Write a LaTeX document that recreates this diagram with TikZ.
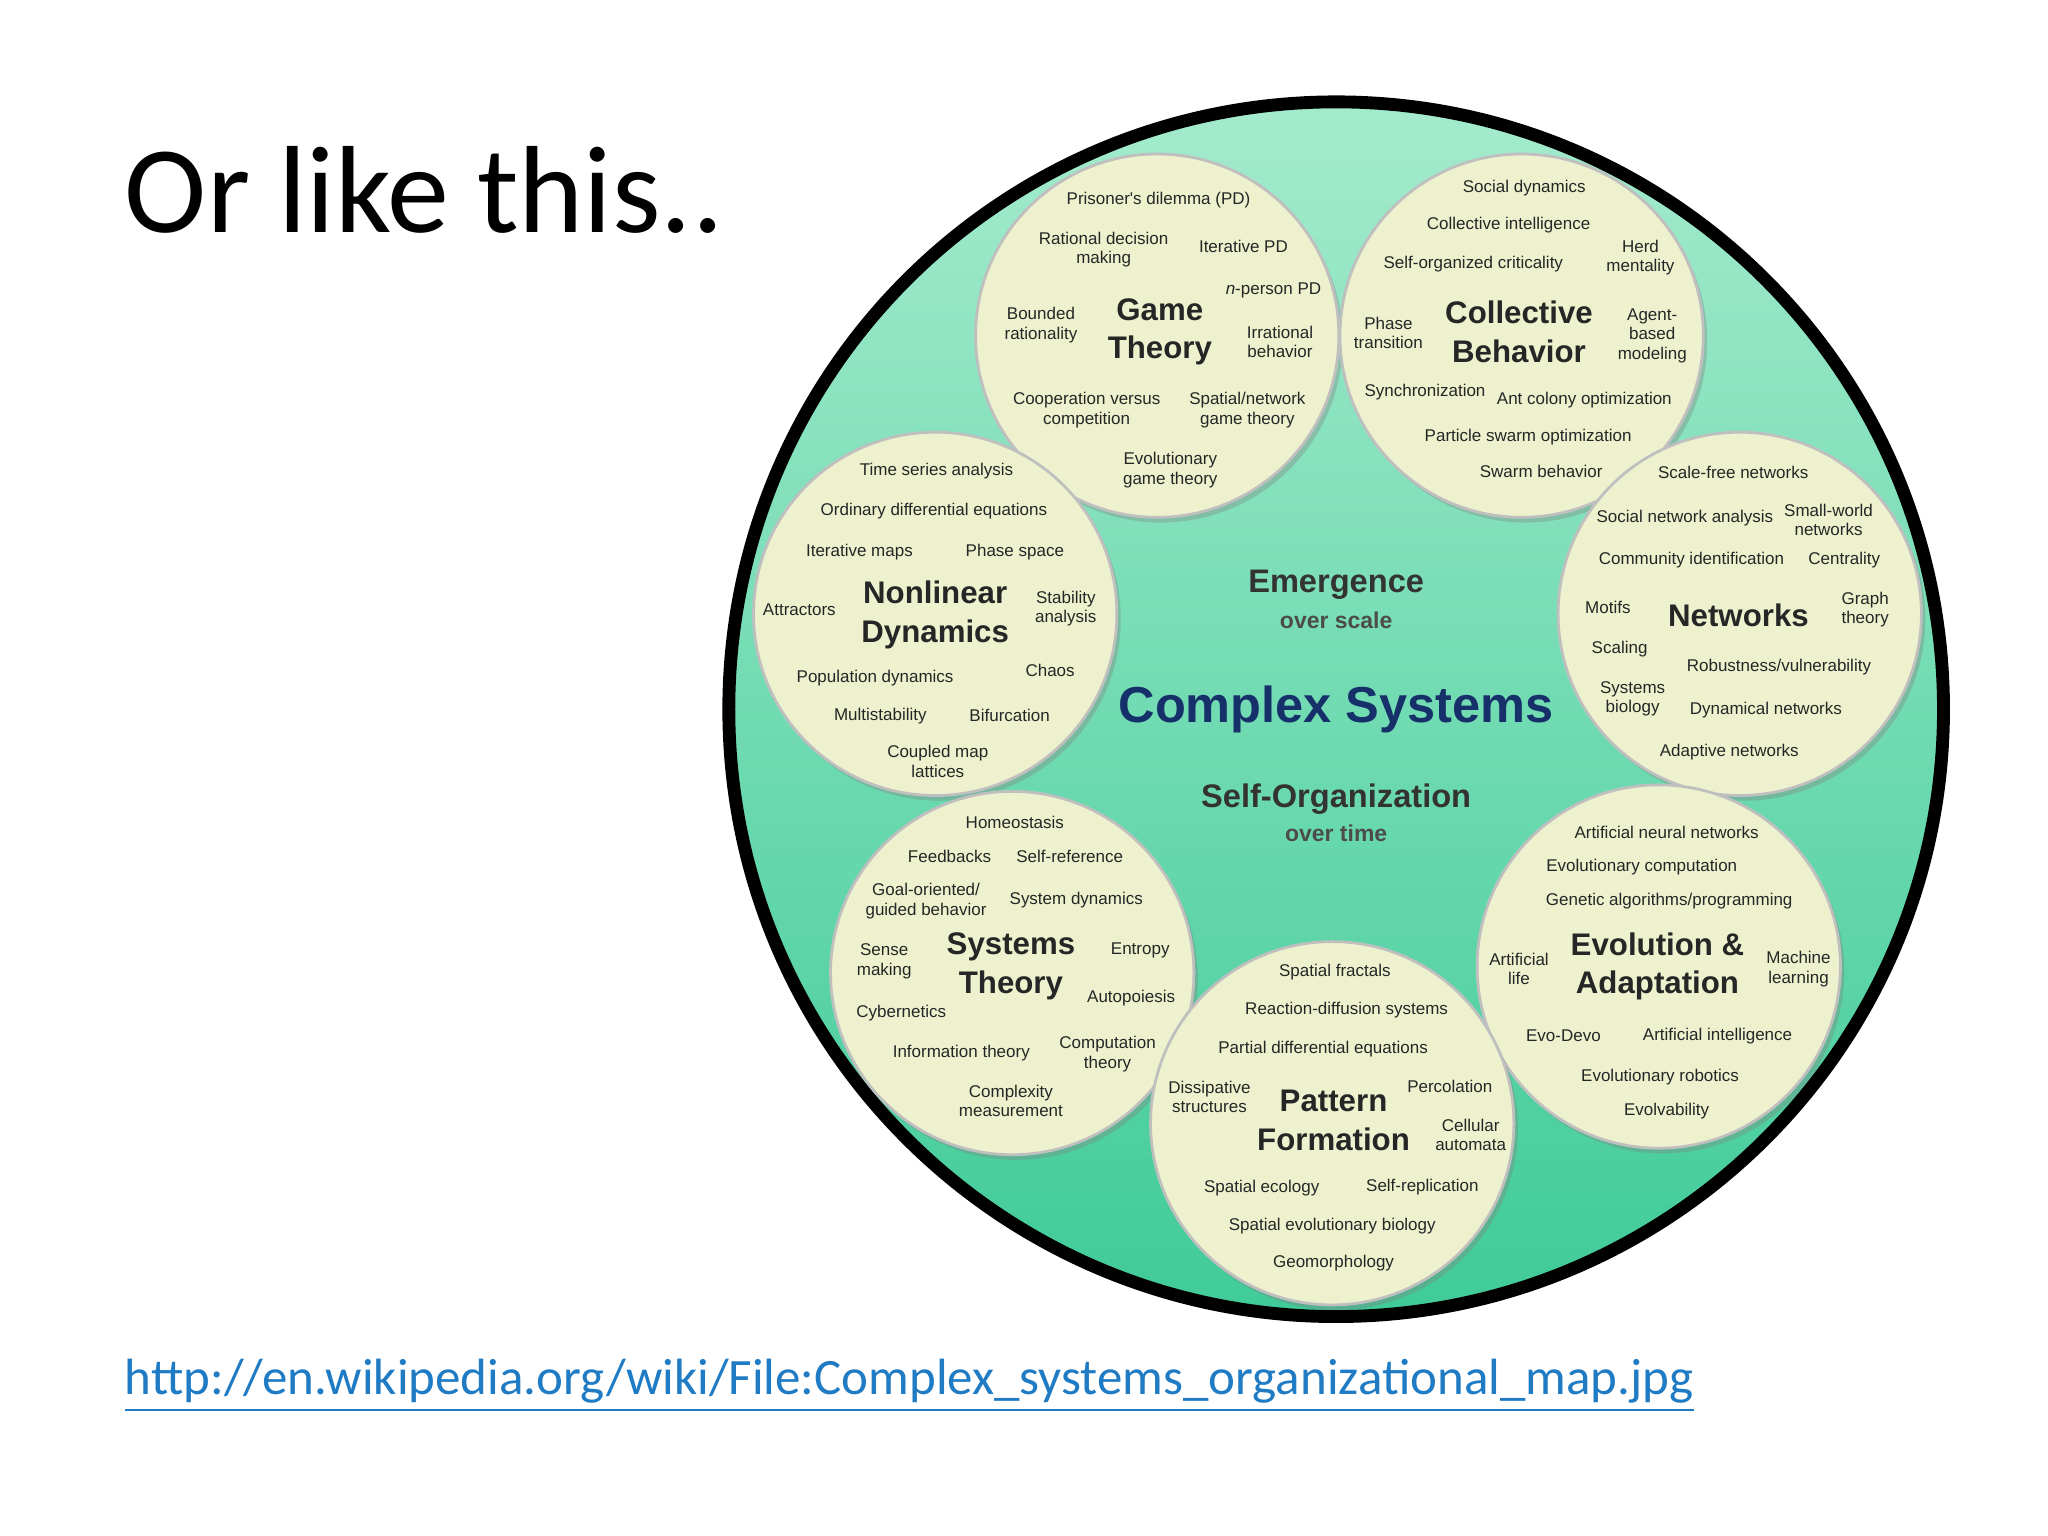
\documentclass[tikz,border=0pt]{standalone}
\usepackage{fontspec}
\setmainfont{Carlito}
\newfontfamily\diag{Liberation Sans}
\usetikzlibrary{shadows}
\definecolor{bgA}{HTML}{A4EBCD}
\definecolor{bgB}{HTML}{3FCB98}
\definecolor{pale}{HTML}{EEF1CD}
\definecolor{navy}{HTML}{16306A}
\definecolor{link}{HTML}{1F7BC4}
\begin{document}
\begin{tikzpicture}[x=0.01cm,y=-0.01cm,
  sm/.style={font=\diag\fontsize{3.7}{4.2}\selectfont,align=center,inner sep=0pt,text=black!85},
  big/.style={font=\diag\bfseries\fontsize{6.8}{8.4}\selectfont,align=center,inner sep=0pt,text=black!85},
  mid/.style={font=\diag\bfseries\fontsize{7.1}{7.3}\selectfont,inner sep=0pt,text=black!80},
  sub/.style={font=\diag\bfseries\fontsize{5}{6}\selectfont,inner sep=0pt,text=black!70},
  bub/.style={circle,minimum size=2.78cm,fill=pale,draw=black!25,line width=0.6pt,
     drop shadow={shadow xshift=0.03cm,shadow yshift=-0.04cm,opacity=0.35}}]
\useasboundingbox (0,0) rectangle (1568,1176);
\fill[white] (0,0) rectangle (1568,1176);
\node[anchor=base west,inner sep=0pt,font=\fontsize{27}{30}\selectfont] (title) at (95,178) {Or like this..};
\node[anchor=base west,inner sep=0pt,font=\fontsize{11.1}{13}\selectfont,text=link] (url) at (95,1068) {\underline{http://en.wikipedia.org/wiki/File:Complex\_systems\_organizational\_map.jpg}};
\shade[top color=bgA,bottom color=bgB] (1023,543) circle (465);
\draw[line width=2.8pt] (1023,543) circle (465) node (main) {};
% bubbles
\node[bub] (gt) at (886,257) {};
\node[bub] (cb) at (1165,257) {};
\node[bub] (nw) at (1332,470) {};
\node[bub] (nd) at (716,470) {};
\node[bub] (st) at (775,745) {};
\node[bub] (ea) at (1270,740) {};
\node[bub] (pf) at (1020,860) {};
% center
\node[mid] (em) at (1023,448) {Emergence};
\node[sub] (os) at (1023,475) {over scale};
\node[font=\diag\bfseries\fontsize{11}{12}\selectfont,text=navy,inner sep=0pt] (cs) at (1023,543) {Complex Systems};
\node[mid] (so) at (1023,612) {Self-Organization};
\node[sub] (ot) at (1023,638) {over time};
% Game theory
\node[sm] at (887,153) {Prisoner's dilemma (PD)};
\node[sm] at (845,191) {Rational decision\\making};
\node[sm] at (952,189) {Iterative PD};
\node[sm] at (975,222) {\emph{n}-person PD};
\node[sm] at (797,249) {Bounded\\rationality};
\node[big] at (888,254) {Game\\Theory};
\node[sm] at (980,262) {Irrational\\behavior};
\node[sm] at (832,314) {Cooperation versus\\competition};
\node[sm] at (955,314) {Spatial/network\\game theory};
\node[sm] at (896,360) {Evolutionary\\game theory};
% Collective
\node[sm] at (1167,144) {Social dynamics};
\node[sm] at (1155,172) {Collective intelligence};
\node[sm] at (1128,202) {Self-organized criticality};
\node[sm] at (1256,197) {Herd\\mentality};
\node[sm] at (1063,255) {Phase\\transition};
\node[big] at (1163,254) {Collective\\Behavior};
\node[sm] at (1265,257) {Agent-\\based\\modeling};
\node[sm] at (1091,300) {Synchronization};
\node[sm] at (1213,306) {Ant colony optimization};
\node[sm] at (1170,335) {Particle swarm optimization};
\node[sm] at (1180,361) {Swarm behavior};
% Networks
\node[sm] at (1327,362) {Scale-free networks};
\node[sm] at (1290,397) {Social network analysis};
\node[sm] at (1400,398) {Small-world\\networks};
\node[sm] at (1295,429) {Community identification};
\node[sm] at (1412,429) {Centrality};
\node[sm] at (1231,465) {Motifs};
\node[big] at (1331,471) {Networks};
\node[sm] at (1428,467) {Graph\\theory};
\node[sm] at (1240,497) {Scaling};
\node[sm] at (1362,511) {Robustness/vulnerability};
\node[sm] at (1250,535) {Systems\\biology};
\node[sm] at (1352,544) {Dynamical networks};
\node[sm] at (1324,576) {Adaptive networks};
% Nonlinear
\node[sm] at (717,361) {Time series analysis};
\node[sm] at (715,391) {Ordinary differential equations};
\node[sm] at (658,423) {Iterative maps};
\node[sm] at (777,423) {Phase space};
\node[sm] at (612,467) {Attractors};
\node[big] at (716,471) {Nonlinear\\Dynamics};
\node[sm] at (816,466) {Stability\\analysis};
\node[sm] at (670,519) {Population dynamics};
\node[sm] at (804,513) {Chaos};
\node[sm] at (674,548) {Multistability};
\node[sm] at (773,548) {Bifurcation};
\node[sm] at (718,583) {Coupled map\\lattices};
% Systems theory
\node[sm] at (777,630) {Homeostasis};
\node[sm] at (727,656) {Feedbacks};
\node[sm] at (819,656) {Self-reference};
\node[sm] at (709,690) {Goal-oriented/\\guided behavior};
\node[sm] at (824,689) {System dynamics};
\node[sm] at (677,736) {Sense\\making};
\node[big] at (774,740) {Systems\\Theory};
\node[sm] at (873,728) {Entropy};
\node[sm] at (866,764) {Autopoiesis};
\node[sm] at (690,776) {Cybernetics};
\node[sm] at (736,806) {Information theory};
\node[sm] at (848,807) {Computation\\theory};
\node[sm] at (774,843) {Complexity\\measurement};
% Pattern formation
\node[sm] at (1022,744) {Spatial fractals};
\node[sm] at (1031,773) {Reaction-diffusion systems};
\node[sm] at (1013,803) {Partial differential equations};
\node[sm] at (926,840) {Dissipative\\structures};
\node[big] at (1021,858) {Pattern\\Formation};
\node[sm] at (1110,832) {Percolation};
\node[sm] at (1126,869) {Cellular\\automata};
\node[sm] at (966,910) {Spatial ecology};
\node[sm] at (1089,909) {Self-replication};
\node[sm] at (1020,939) {Spatial evolutionary biology};
\node[sm] at (1021,967) {Geomorphology};
% Evolution
\node[sm] at (1276,637) {Artificial neural networks};
\node[sm] at (1257,664) {Evolutionary computation};
\node[sm] at (1278,690) {Genetic algorithms/programming};
\node[sm] at (1163,742) {Artificial\\life};
\node[big] at (1269,740) {Evolution \&\\Adaptation};
\node[sm] at (1377,742) {Machine\\learning};
\node[sm] at (1197,793) {Evo-Devo};
\node[sm] at (1315,793) {Artificial intelligence};
\node[sm] at (1271,825) {Evolutionary robotics};
\node[sm] at (1276,851) {Evolvability};
\end{tikzpicture}
\end{document}
